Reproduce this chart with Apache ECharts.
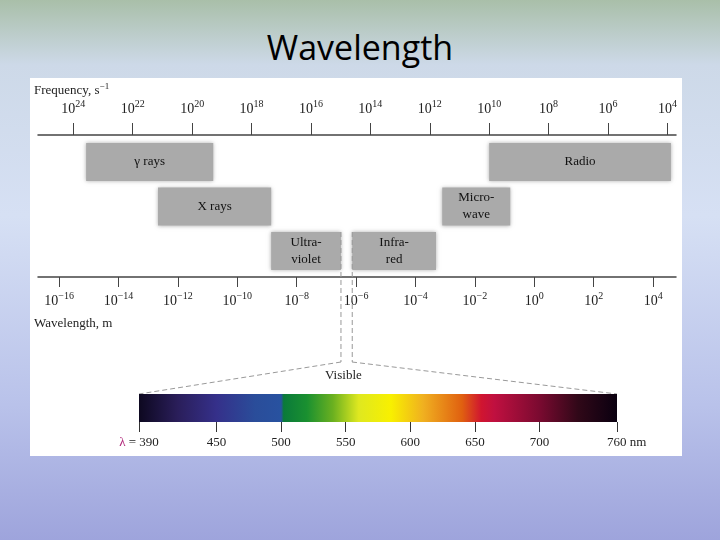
<!DOCTYPE html>
<html><head><meta charset="utf-8">
<script src="https://cdn.jsdelivr.net/npm/echarts@6/dist/echarts.min.js"></script>
<style>
html,body{margin:0;padding:0;width:720px;height:540px;overflow:hidden;
background:linear-gradient(to bottom,#a9bfa9 0%,#cdd9e8 12%,#d6e0f4 40%,#b9c2ea 75%,#9ea4dc 100%);}
#t{position:absolute;top:24px;width:720px;text-align:center;font:34px "Open Sans",sans-serif;color:#000}
#p{position:absolute;left:30px;top:78px;width:652px;height:378px;background:#fff}
#c{position:absolute;left:0;top:0;width:720px;height:540px}
</style></head><body>
<div id="t">Wavelength</div><div id="p"></div><div id="c"></div>
<script>
const wavelengthTicks=[-16,-14,-12,-10,-8,-6,-4,-2,0,2,4];
const frequencyTicks=[24,22,20,18,16,14,12,10,8,6,4];
const bandNames=['γ rays','X rays','Ultra-\nviolet','Infra-\nred','Micro-\nwave','Radio'];
const bandStart=[-15.09,-12.67,-8.86,-6.13,-3.10,-1.52];
const bandEnd=[-10.81,-8.86,-6.51,-3.31,-0.81,4.6];
const bandRow=[0,1,2,2,1,0];
const visibleEdges=[-6.51,-6.13];
const nmTicks=[390,450,500,550,600,650,700,760];
const spectrumWl=[390,420,450,480,500,502,520,540,560,585,610,640,655,665,700,730,760];
const spectrumColors=['#0d0820','#2a1e5a','#35308a','#2a4d9a','#2852a0','#0a7a3a','#1a9030','#6ab020','#dfe820','#f8f000','#f0b020','#e06010','#d01530','#c01040','#7a0a30','#300818','#0a0010'];
const C=8.48;
const serif='"Liberation Serif","DejaVu Serif",serif';
const sup=t=>'10{s|'+String(t).replace('-','−')+'}';
const rich={s:{fontSize:10,verticalAlign:'top',padding:[0,0,10,0],fontFamily:serif,color:'#222'}};
const ch=echarts.init(document.getElementById('c'));
const stops=spectrumWl.map((w,i)=>({offset:(w-390)/370,color:spectrumColors[i]}));
ch.setOption({
 animation:false,
 grid:[{left:38,right:44,top:135,height:142},{left:139,right:103,top:394,height:28}],
 xAxis:[
  {gridIndex:0,type:'value',min:-16.71,max:4.77,position:'bottom',splitLine:{show:false},
   axisLine:{onZero:false,lineStyle:{color:'#444',width:1.5}},axisTick:{customValues:wavelengthTicks,length:10,lineStyle:{color:'#444'}},
   axisLabel:{customValues:wavelengthTicks,formatter:v=>sup(v),rich,margin:14,fontSize:14,fontFamily:serif,color:'#222'}},
  {gridIndex:0,type:'value',min:C-4.77,max:C+16.71,inverse:true,position:'top',splitLine:{show:false},
   axisLine:{onZero:false,lineStyle:{color:'#444',width:1.5}},axisTick:{customValues:frequencyTicks,length:12,lineStyle:{color:'#444'}},
   axisLabel:{customValues:frequencyTicks,formatter:v=>sup(v),rich,margin:16,fontSize:14,fontFamily:serif,color:'#222'}},
  {gridIndex:1,type:'value',min:390,max:760,splitLine:{show:false},axisLine:{show:false},
   axisTick:{customValues:nmTicks,length:10,lineStyle:{color:'#333'}},
   axisLabel:{customValues:nmTicks,margin:14,fontSize:13,fontFamily:serif,color:'#222',
    formatter:v=>v===390?'{m|λ} = 390':(v===760?'      760 nm':String(v)),rich:{m:{color:'#b0287a',fontSize:13,fontFamily:serif}}}}
 ],
 yAxis:[{gridIndex:0,type:'value',min:0,max:142,inverse:true,show:false},
        {gridIndex:1,type:'value',min:0,max:1,show:false}],
 series:[
  {type:'custom',xAxisIndex:0,yAxisIndex:0,clip:false,data:bandNames.map((n,i)=>[bandStart[i],bandEnd[i],bandRow[i],i]),
   renderItem:(p,api)=>{const i=api.value(3);const top=8+api.value(2)*44.5;
    const a=api.coord([api.value(0),top]),b=api.coord([api.value(1),top+38]);
    return {type:'group',children:[
     {type:'rect',shape:{x:a[0],y:a[1],width:b[0]-a[0],height:b[1]-a[1]},style:{fill:'#aaaaaa',shadowBlur:4,shadowColor:'rgba(120,120,120,0.6)'}},
     {type:'text',style:{x:(a[0]+b[0])/2,y:(a[1]+b[1])/2,text:bandNames[i],align:'center',verticalAlign:'middle',font:'13px '+serif,fill:'#111',lineHeight:17}}]};}},
  {type:'custom',xAxisIndex:0,yAxisIndex:0,clip:false,data:visibleEdges.map(v=>[v]),
   renderItem:(p,api)=>{const a=api.coord([api.value(0),97]),b=api.coord([api.value(0),227]);
    return {type:'line',shape:{x1:a[0],y1:a[1],x2:b[0],y2:b[1]},style:{stroke:'#999',lineDash:[5,3],lineWidth:1}};}},
  {type:'custom',xAxisIndex:2,yAxisIndex:1,data:[[390,760]],
   renderItem:(p,api)=>{const a=api.coord([api.value(0),1]),b=api.coord([api.value(1),0]);
    return {type:'rect',shape:{x:a[0],y:a[1],width:b[0]-a[0],height:b[1]-a[1]},
     style:{fill:new echarts.graphic.LinearGradient(0,0,1,0,stops)}};}}
 ],
 graphic:[
  {type:'polyline',shape:{points:[[341,362],[139,394]]},style:{stroke:'#999',lineDash:[5,3],fill:null}},
  {type:'polyline',shape:{points:[[352,362],[617,394]]},style:{stroke:'#999',lineDash:[5,3],fill:null}},
  {type:'text',left:325,top:369,style:{text:'Visible',font:'13px '+serif,fill:'#222'}},
  {type:'text',left:34,top:82,style:{text:'Frequency, s{s|−1}',font:'13px '+serif,fill:'#222',rich:{s:{fontSize:9,verticalAlign:'top',padding:[0,0,8,0],fontFamily:serif}}}},
  {type:'text',left:34,top:317,style:{text:'Wavelength, m',font:'13px '+serif,fill:'#222'}}
 ]
});
</script></body></html>
